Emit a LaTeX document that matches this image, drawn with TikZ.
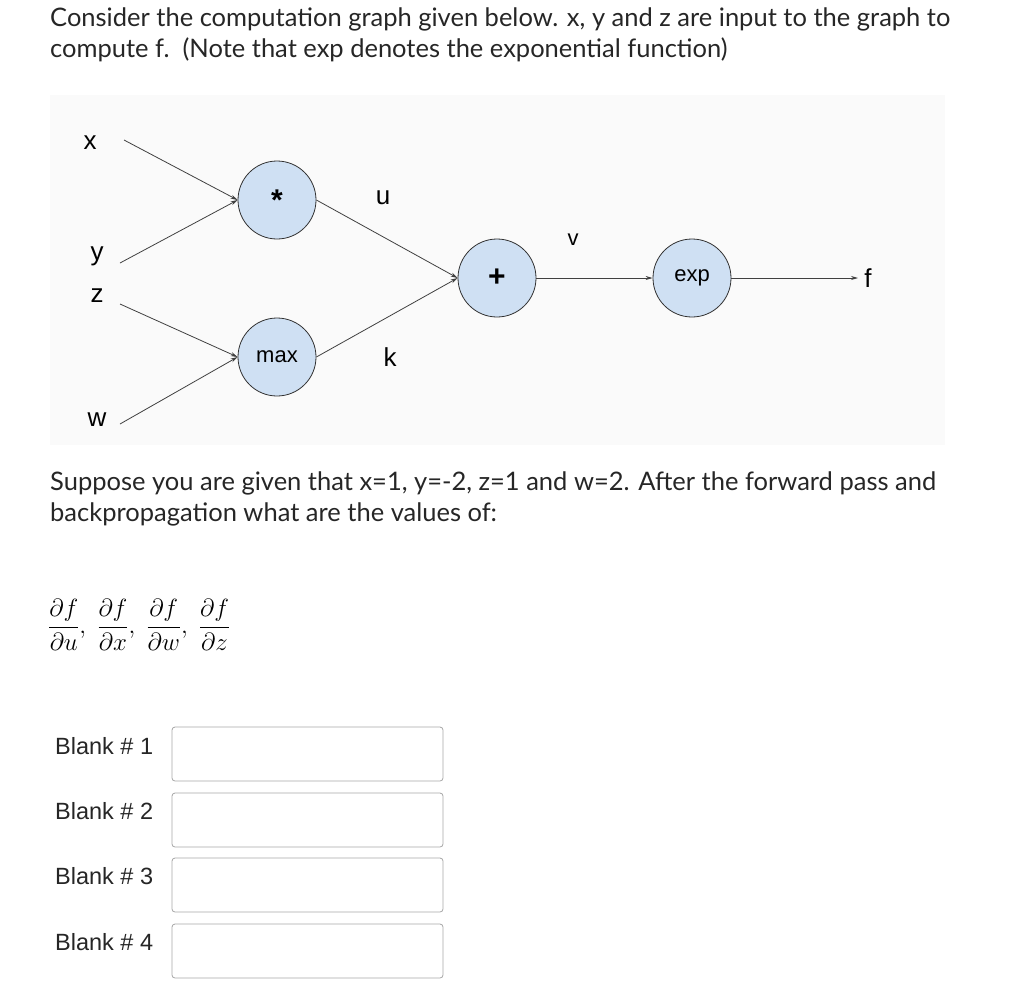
\documentclass[tikz,border=0pt]{standalone}
\usepackage{amsmath}
\usepackage{fontspec}
\setmainfont{Lato}
\newfontfamily\arial{Liberation Sans}
\usetikzlibrary{arrows.meta}
\definecolor{nodefill}{HTML}{CFE0F3}
\begin{document}
\begin{tikzpicture}[x=1pt,y=-1pt,
  op/.style={draw=black!80,line width=0.8pt,fill=nodefill,circle,minimum size=78pt,inner sep=0pt,font=\arial\fontsize{22}{24}\selectfont},
  lbl/.style={font=\arial\fontsize{26}{28}\selectfont,inner sep=0pt},
  edge/.style={draw=black!75,line width=0.8pt,-{Stealth[length=7pt,width=4pt]}},
  txt/.style={anchor=north west,align=left,inner sep=0pt,font=\fontsize{25.5}{31}\selectfont,text=black!85},
  blank/.style={draw=black!35,rounded corners=3pt,line width=0.8pt,minimum width=271pt,minimum height=54pt,inner sep=0pt},
  btxt/.style={anchor=west,inner sep=0pt,font=\arial\fontsize{23.5}{26}\selectfont,text=black!85}]
\useasboundingbox (0,0) rectangle (1024,991);
\fill[black!2] (50,95) rectangle (945,445);
\node[txt] (q1) at (50,8) {Consider the computation graph given below. x, y and z are input to the graph to\\compute f.\ \ (Note that exp denotes the exponential function)};
\node[op,font=\arial\bfseries\fontsize{30}{30}\selectfont] (mul) at (277,200) {*};
\node[op] (max) at (277,357) {max};
\node[op,font=\arial\bfseries\fontsize{30}{30}\selectfont] (add) at (497,278) {+};
\node[op] (exp) at (692,278) {exp};
\node[lbl] (x) at (90,143) {x};
\node[lbl] (y) at (97,256) {y};
\node[lbl] (z) at (97,296) {z};
\node[lbl] (w) at (97,420) {w};
\node[lbl] (u) at (383,198) {u};
\node[lbl] (k) at (390,357) {k};
\node[lbl,font=\arial\fontsize{22}{24}\selectfont] (v) at (573,240) {v};
\node[lbl] (f) at (868,278) {f};
\coordinate (xs) at (124,140); \coordinate (ys) at (120,263);
\coordinate (zs) at (120,304); \coordinate (ws) at (120,424);
\draw[edge] (xs) -- (mul.west);
\draw[edge] (ys) -- (mul.west);
\draw[edge] (zs) -- (max.west);
\draw[edge] (ws) -- (max.west);
\draw[edge] (mul.east) -- (add.west);
\draw[edge] (max.east) -- (add.west);
\draw[edge] (add) -- (exp);
\coordinate (fe) at (858,278);
\draw[edge] (exp) -- (fe);
\node[txt] (q2) at (50,472) {Suppose you are given that x=1, y=-2, z=1 and w=2. After the forward pass and\\backpropagation what are the values of:};
\node[anchor=west,inner sep=0pt,font=\fontsize{25}{30}\selectfont] (fr) at (48,625) {$\dfrac{\partial f}{\partial u},\;\dfrac{\partial f}{\partial x},\;\dfrac{\partial f}{\partial w},\;\dfrac{\partial f}{\partial z}$};
\node[btxt] (b1l) at (55,746) {Blank \# 1};
\node[btxt] (b2l) at (55,811) {Blank \# 2};
\node[btxt] (b3l) at (55,876) {Blank \# 3};
\node[btxt] (b4l) at (55,942) {Blank \# 4};
\node[blank] (b1) at (307.5,754) {};
\node[blank] (b2) at (307.5,820) {};
\node[blank] (b3) at (307.5,885) {};
\node[blank] (b4) at (307.5,951) {};
\end{tikzpicture}
\end{document}
